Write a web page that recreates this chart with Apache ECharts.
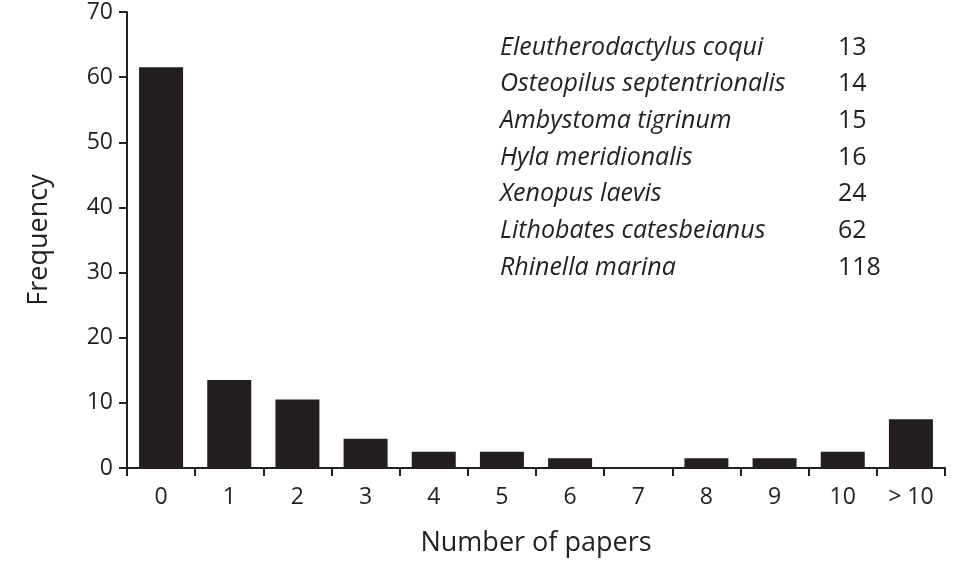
<!DOCTYPE html>
<html><head><meta charset="utf-8">
<script src="https://cdn.jsdelivr.net/npm/echarts@6/dist/echarts.min.js"></script>
<style>html,body{margin:0;padding:0;background:#fff}#c{width:964px;height:564px}</style>
</head><body><div id="c"></div>
<script>
const categories = ['0','1','2','3','4','5','6','7','8','9','10','> 10'];
const frequency = [61.5, 13.5, 10.5, 4.5, 2.5, 2.5, 1.5, 0, 1.5, 1.5, 2.5, 7.5];
const species = ['Eleutherodactylus coqui','Osteopilus septentrionalis','Ambystoma tigrinum','Hyla meridionalis','Xenopus laevis','Lithobates catesbeianus','Rhinella marina'];
const paperCounts = ['13','14','15','16','24','62','118'];
const yTicks = [0,10,20,30,40,50,60,70];

const font = '"Open Sans", "Liberation Sans", sans-serif';
const chart = echarts.init(document.getElementById('c'));
const graphics = [];
species.forEach((s,i)=>{
  const y = 52 + i*36.7;
  graphics.push({type:'text',left:500,top:y-17,style:{text:s,font:'italic 25px '+font,fill:'#231f20'}});
  graphics.push({type:'text',left:838,top:y-17,style:{text:paperCounts[i],font:'25px '+font,fill:'#231f20'}});
});
chart.setOption({
  animation:false,
  grid:{left:127,right:19,top:12,bottom:96},
  xAxis:{type:'category',data:categories,
    axisLine:{lineStyle:{color:'#231f20',width:2}},
    axisTick:{show:true,alignWithLabel:false,length:8,lineStyle:{color:'#231f20',width:2}},
    axisLabel:{color:'#231f20',fontSize:23,fontFamily:font,margin:18},
    name:'Number of papers',nameLocation:'middle',nameGap:62,
    nameTextStyle:{color:'#231f20',fontSize:27,fontFamily:font}},
  yAxis:{type:'value',min:0,max:70,interval:10,
    axisLine:{show:true,lineStyle:{color:'#231f20',width:2}},
    axisTick:{show:true,length:8,lineStyle:{color:'#231f20',width:2}},
    splitLine:{show:false},
    axisLabel:{color:'#231f20',fontSize:23,fontFamily:font,margin:14,
      formatter:v=>yTicks.includes(v)?String(v):''},
    name:'Frequency',nameLocation:'middle',nameGap:74,
    nameTextStyle:{color:'#231f20',fontSize:27,fontFamily:font}},
  series:[{type:'bar',data:frequency,barWidth:44,itemStyle:{color:'#231f20'}}],
  graphic:graphics
});
</script></body></html>
